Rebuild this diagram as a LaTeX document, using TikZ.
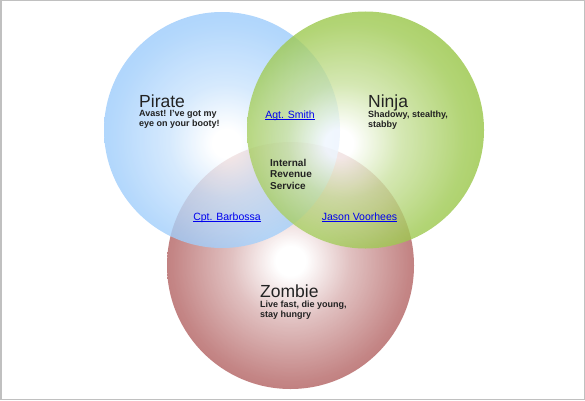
\documentclass[tikz,border=0pt]{standalone}
\usepackage{fontspec}
\setmainfont{Liberation Sans}
\usetikzlibrary{positioning}
\definecolor{mypirateblue}{RGB}{140, 195, 250}
\definecolor{myninjagreen}{RGB}{138, 190, 45}
\definecolor{myzombiered}{RGB}{160, 60, 60}
\definecolor{mylinkblue}{RGB}{0, 0, 238}
\definecolor{mytextgray}{RGB}{34, 34, 34}
\definecolor{myframegray}{RGB}{192, 192, 192}

\pgfdeclareradialshading{pirateglow}{\pgfpoint{1bp}{-3bp}}{color(0bp)=(white); color(3bp)=(white); color(12bp)=(mypirateblue!45!white); color(24bp)=(mypirateblue!82!white); color(35bp)=(mypirateblue); color(50bp)=(mypirateblue)}
\pgfdeclareradialshading{ninjaglow}{\pgfpoint{-6bp}{-3bp}}{color(0bp)=(white); color(3bp)=(white); color(12bp)=(myninjagreen!45!white); color(24bp)=(myninjagreen!82!white); color(35bp)=(myninjagreen); color(50bp)=(myninjagreen)}
\pgfdeclareradialshading{zombieglow}{\pgfpoint{0bp}{1bp}}{color(0bp)=(white); color(3bp)=(white); color(12bp)=(myzombiered!40!white); color(24bp)=(myzombiered!78!white); color(35bp)=(myzombiered); color(50bp)=(myzombiered)}

\newcommand\weblink[1]{\leavevmode\setbox0\hbox{#1}\rlap{\rule[-1.6pt]{\wd0}{0.7pt}}\box0}

\tikzset{
  vennset/.style={circle, shade, minimum size=#1, inner sep=0, outer sep=0, fill opacity=0.8},
  settitle/.style={anchor=base west, inner sep=0, font=\fontsize{17.5}{20}\selectfont, text=mytextgray},
  motto/.style={anchor=north west, inner sep=0, align=left, font=\bfseries\fontsize{9}{10}\selectfont, text=mytextgray},
  member/.style={anchor=base, inner sep=0, font=\fontsize{10.5}{12}\selectfont, text=mylinkblue}
}

\begin{document}
\begin{tikzpicture}[x=1pt, y=1pt]
\useasboundingbox (0,0) rectangle (585,400);
\draw[myframegray, line width=1.5pt] (0.75,0.75) rectangle (584.25,399.25);

% --- Sets ---
\node[vennset=247pt, shading=zombieglow] (zombie) at (290.5,134.5) {};
\node[vennset=236pt, shading=pirateglow] (pirate) at (222,270) {};
\node[vennset=237pt, shading=ninjaglow] (ninja) at (365.5,270) {};

% --- Set names ---
\node[settitle] (piratename) at (139,293) {Pirate};
\node[motto] (piratemotto) at (139,289.5) {Avast! I've got my\\eye on your booty!};
\node[settitle] (ninjaname) at (368,293) {Ninja};
\node[motto] (ninjamotto) at (368,289.5) {Shadowy, stealthy,\\stabby};
\node[settitle] (zombiename) at (260,103) {Zombie};
\node[motto] (zombiemotto) at (260,99.5) {Live fast, die young,\\stay hungry};

% --- Overlaps ---
\node[member] (agtsmith) at (290,282) {\weblink{Agt. Smith}};
\node[member] (barbossa) at (227,180) {\weblink{Cpt. Barbossa}};
\node[member] (voorhees) at (359.5,180) {\weblink{Jason Voorhees}};
\node[motto, font=\bfseries\fontsize{10}{11.5}\selectfont] (irs) at (270,241) {Internal\\Revenue\\Service};
\end{tikzpicture}
\end{document}
